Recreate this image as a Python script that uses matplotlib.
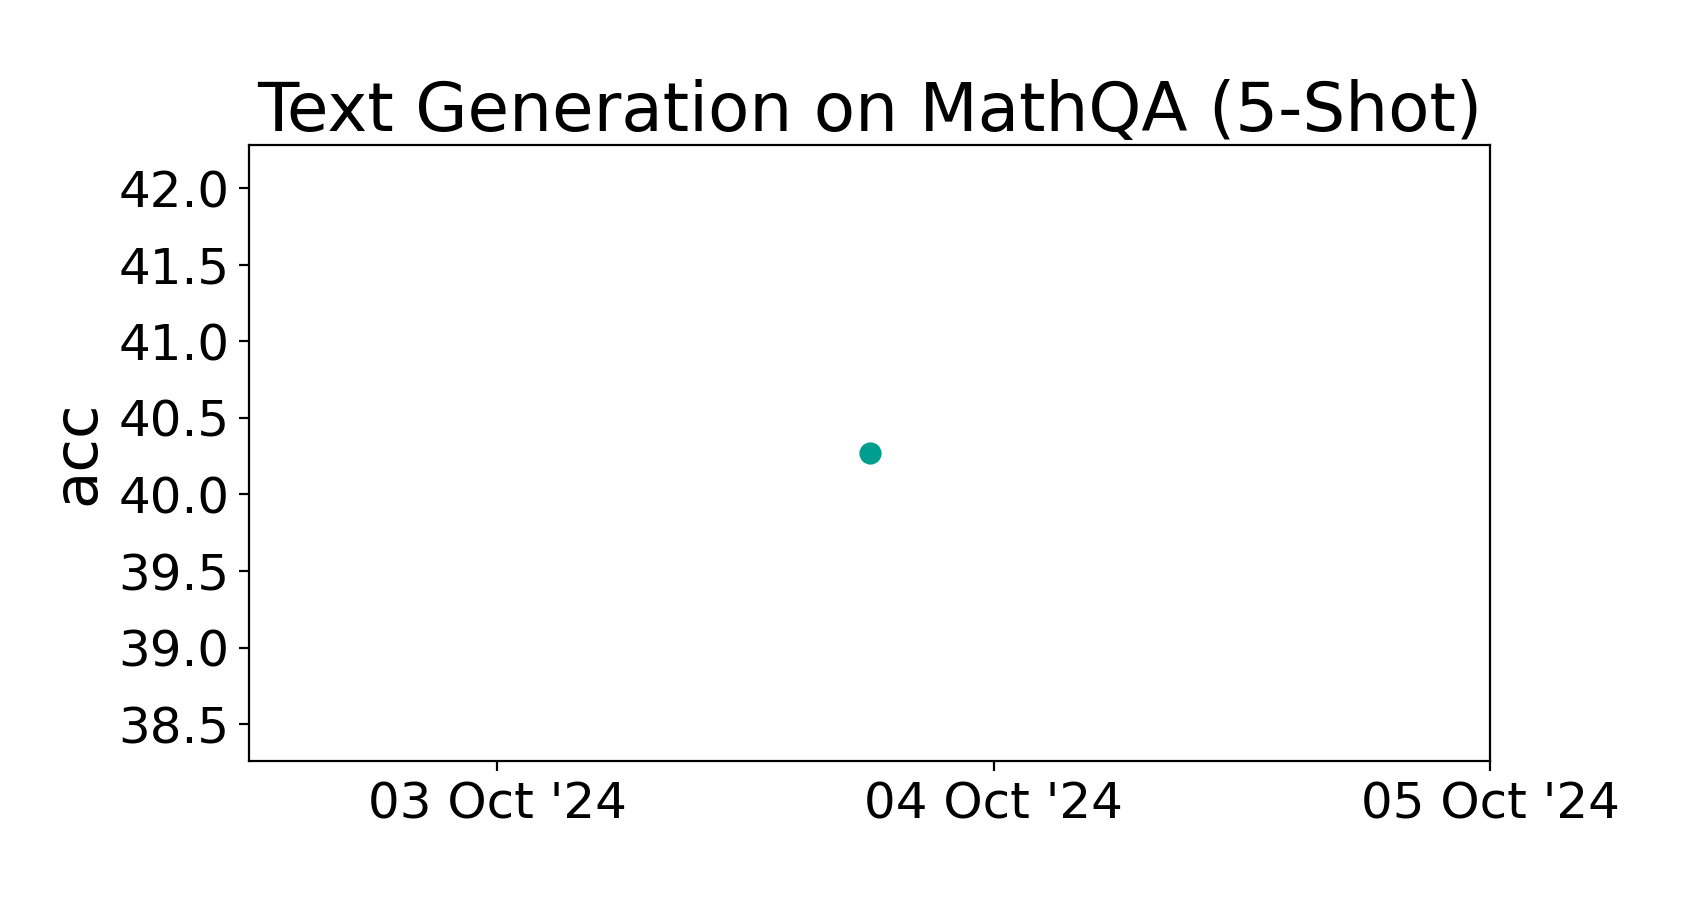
import matplotlib
matplotlib.use("Agg")
import matplotlib.pyplot as plt
import matplotlib.dates as mdates
import numpy as np
import pandas as pd

# data
dates = pd.to_datetime(["2024-10-03 18:00"])
acc = [40.27]
title = "Text Generation on MathQA (5-Shot)"
marker_color = '#009E8E'

plt.rcParams.update({'font.size': 18})
fig, ax1 = plt.subplots(1, 1, figsize=(8.5, 4.5), dpi=200)
ax1.plot(dates, acc, 'o', ms=7, color=marker_color)
ax1.set_ylim(acc[0]*0.95, acc[0]*1.05)
ax1.set_xlim(pd.Timestamp("2024-10-02 12:00"), pd.Timestamp("2024-10-05 00:00"))
ax1.xaxis.set_major_locator(mdates.DayLocator())
ax1.xaxis.set_major_formatter(mdates.DateFormatter("%d %b '%y"))
ax1.yaxis.set_major_locator(matplotlib.ticker.MultipleLocator(0.5))
ax1.set_ylabel("acc", fontsize=22)
ax1.set_title(title, fontsize=24.3, pad=5)
fig.subplots_adjust(left=0.1465, right=0.8765, top=0.839, bottom=0.154)
fig.savefig("out.png", dpi=200)
plt.close(fig)
